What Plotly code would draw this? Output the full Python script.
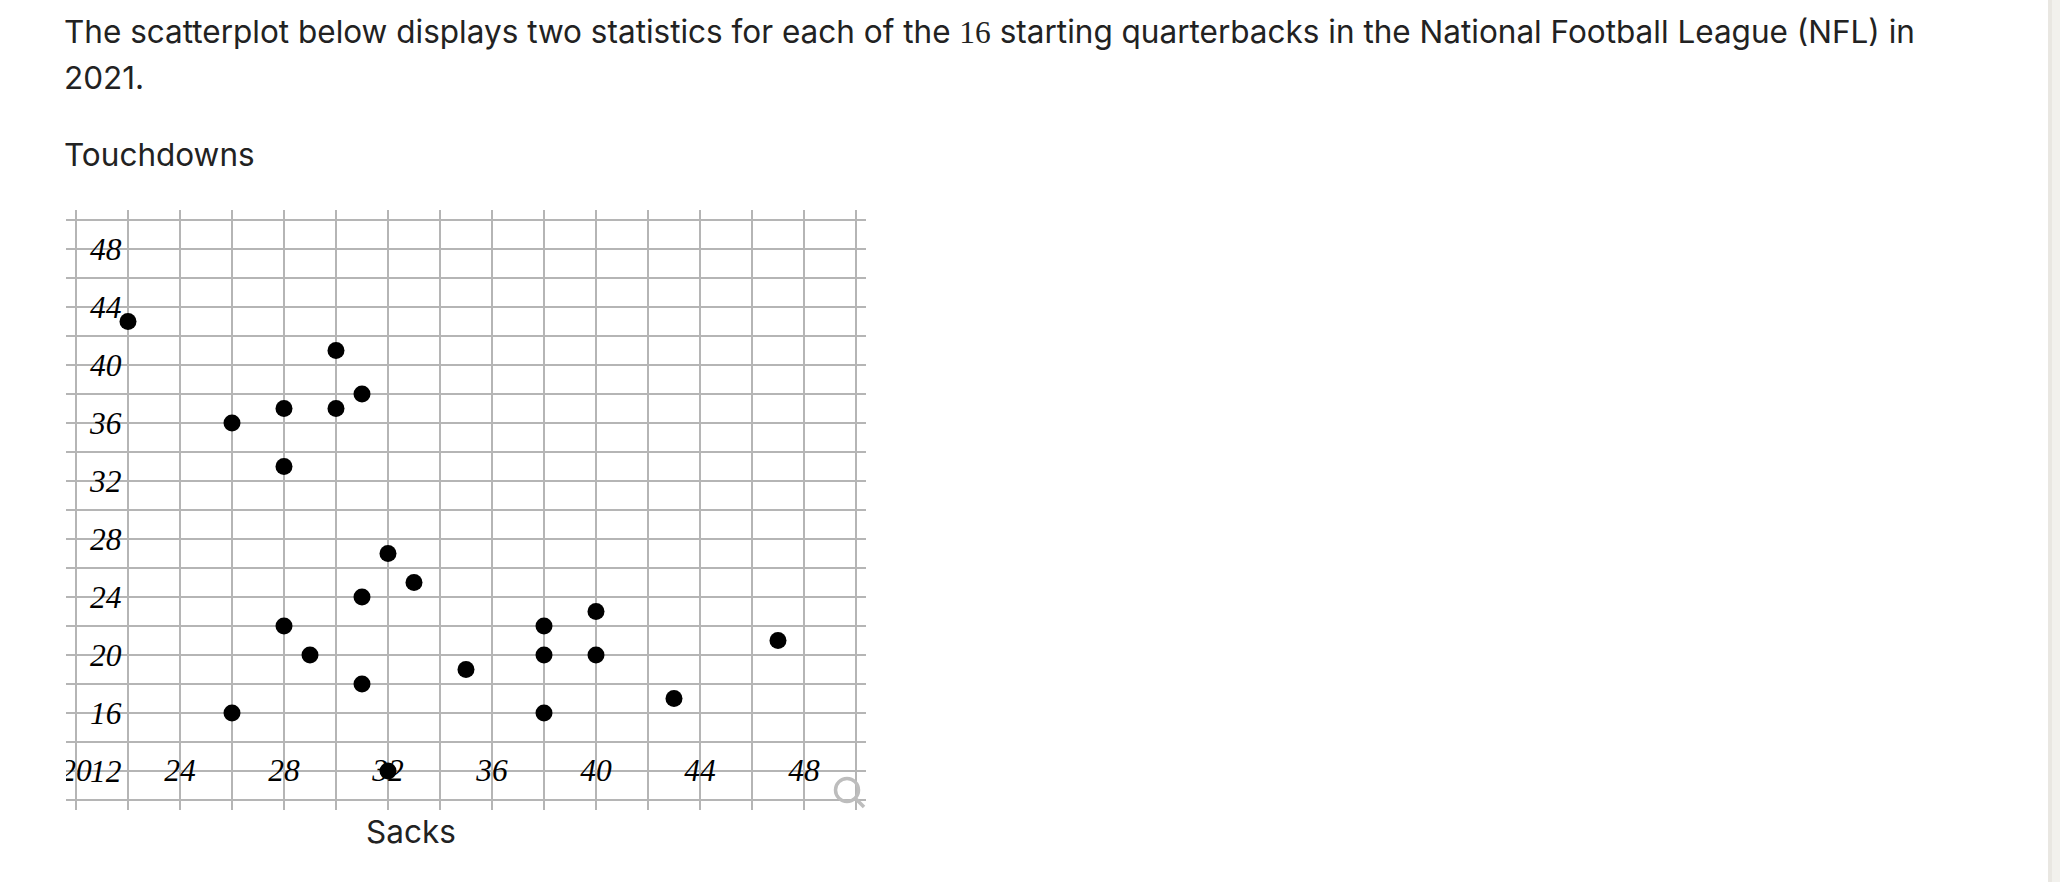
import plotly.graph_objects as go

# Quarterback season statistics
sacks = [22, 30, 31, 28, 30, 26, 28, 32, 33, 31, 28, 29, 31, 35, 26, 32, 38, 38, 38, 40, 40, 43, 47]
touchdowns = [43, 41, 38, 37, 37, 36, 33, 27, 25, 24, 22, 20, 18, 19, 16, 12, 22, 20, 16, 23, 20, 17, 21]

# Axis labelling
x_tick_labels = [20, 24, 28, 32, 36, 40, 44, 48]
y_tick_labels = [48, 44, 40, 36, 32, 28, 24, 20, 16, 12]
x_label_row = 11.85
y_label_col = 21.82

W, H = 2060, 882
PL, PT, PW, PH = 66, 210, 800, 600


def px(x):
    return (x - PL) / PW


def py(y):
    return 1 - (y - PT) / PH


TEXT_FONT = dict(family="Inter, Roboto, sans-serif", size=31.5, color="#222222")
TICK_FONT = dict(family="Liberation Serif, Times New Roman, serif", size=31.5, color="#000000", style="italic")

fig = go.Figure()

# x-axis numbers placed along the y = 12 row
fig.add_trace(go.Scatter(
    x=x_tick_labels,
    y=[x_label_row] * len(x_tick_labels),
    text=[str(v) for v in x_tick_labels],
    mode="text",
    textposition="middle center",
    textfont=TICK_FONT,
    cliponaxis=True,
    hoverinfo="skip",
    showlegend=False,
))

# the scatter points
fig.add_trace(go.Scatter(
    x=sacks,
    y=touchdowns,
    mode="markers",
    marker=dict(size=17, color="#000000", line=dict(width=0)),
    cliponaxis=True,
    showlegend=False,
))

annotations = []
# y-axis numbers, right-aligned beside the x = 22 grid line
for v in y_tick_labels:
    annotations.append(dict(
        x=y_label_col, y=v, xref="x", yref="y", text=str(v),
        showarrow=False, xanchor="right", yanchor="middle",
        font=TICK_FONT, borderpad=0,
    ))

line1 = ("The scatterplot below displays two statistics for each of the "
         "<span style=\"font-family:'Liberation Serif'\">16</span> "
         "starting quarterbacks in the National Football League (NFL) in")
annotations += [
    dict(x=px(62), y=py(31), xref="paper", yref="paper", text=line1,
         showarrow=False, xanchor="left", yanchor="middle", font=TEXT_FONT),
    dict(x=px(62), y=py(77), xref="paper", yref="paper", text="2021.",
         showarrow=False, xanchor="left", yanchor="middle", font=TEXT_FONT),
    dict(x=px(62), y=py(154), xref="paper", yref="paper", text="Touchdowns",
         showarrow=False, xanchor="left", yanchor="middle", font=TEXT_FONT),
    dict(x=px(411), y=py(831), xref="paper", yref="paper", text="Sacks",
         showarrow=False, xanchor="center", yanchor="middle", font=TEXT_FONT),
]

shapes = [
    # zoom (magnifier) icon
    dict(type="circle", xref="paper", yref="paper",
         x0=px(835.5), x1=px(858.5), y0=py(778.5), y1=py(801.5),
         line=dict(color="#bdbdbd", width=3.5), layer="above"),
    dict(type="line", xref="paper", yref="paper",
         x0=px(855), y0=py(798), x1=px(864), y1=py(807),
         line=dict(color="#bdbdbd", width=3.5), layer="above"),
    # page scroll strip on the right edge
    dict(type="rect", xref="paper", yref="paper",
         x0=px(2048), x1=px(2060), y0=py(0), y1=py(882),
         fillcolor="#f2f1ed", line=dict(width=0), layer="below"),
    dict(type="rect", xref="paper", yref="paper",
         x0=px(2048), x1=px(2052), y0=py(0), y1=py(882),
         fillcolor="#e9e7e2", line=dict(width=0), layer="below"),
]

grid = dict(showgrid=True, gridcolor="#b5b5b5", gridwidth=1.5, dtick=2, tick0=0,
            showticklabels=False, zeroline=False, showline=False, ticks="",
            fixedrange=True)

fig.update_layout(
    width=W, height=H,
    margin=dict(l=PL, r=W - PL - PW, t=PT, b=H - PT - PH),
    paper_bgcolor="#ffffff",
    plot_bgcolor="#ffffff",
    xaxis=dict(range=[20 - 10 / 26, 50 + 10 / 26], **grid),
    yaxis=dict(range=[10 - 10 / 14.5, 50 + 10 / 14.5], **grid),
    annotations=annotations,
    shapes=shapes,
    showlegend=False,
)

fig.write_html("out.html", config={"displayModeBar": False})
